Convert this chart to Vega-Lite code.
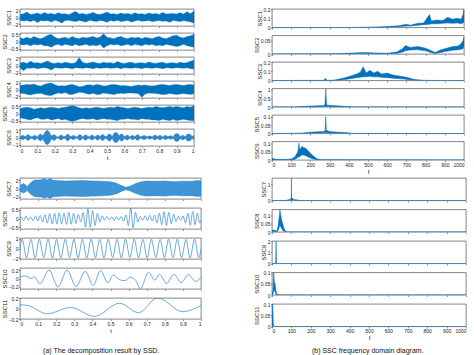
{
"$schema":"https://vega.github.io/schema/vega-lite/v6.json",
"padding":{"left":0,"top":0,"right":0,"bottom":0},
"config":{"font":"Liberation Sans","view":{"stroke":"#333","strokeWidth":0.6},
"axis":{"labelFontSize":5,"titleFontSize":6,"tickSize":1.5,"tickWidth":0.5,"tickColor":"#333","domain":false,"grid":false,"labelPadding":0.5,"titlePadding":1,"labelColor":"#222","titleColor":"#222","titleFontWeight":"normal"},
"title":{"fontSize":7,"fontWeight":"normal","color":"#111"}},
"datasets":{
"top":[
{"t":0,"h1":0.9,"l1":-0.8,"h2":0.25,"l2":-0.2,"h3":0.7,"l3":-0.6,"h4":1.2,"l4":-1.1,"h5":0.35,"l5":-0.3},
{"t":0.02,"h1":1.1,"l1":-1.0,"h2":0.2,"l2":-0.25,"h3":0.9,"l3":-1.5,"h4":1.3,"l4":-1.2,"h5":0.4,"l5":-0.35},
{"t":0.04,"h1":1.6,"l1":-0.9,"h2":0.3,"l2":-0.2,"h3":0.6,"l3":-0.7,"h4":1.5,"l4":-1.4,"h5":0.45,"l5":-0.4},
{"t":0.06,"h1":0.9,"l1":-1.2,"h2":0.2,"l2":-0.3,"h3":1.2,"l3":-0.8,"h4":1.4,"l4":-1.6,"h5":0.4,"l5":-0.45},
{"t":0.08,"h1":1.0,"l1":-0.8,"h2":0.35,"l2":-0.2,"h3":0.7,"l3":-0.6,"h4":1.6,"l4":-1.3,"h5":0.3,"l5":-0.35},
{"t":0.1,"h1":1.3,"l1":-1.5,"h2":0.25,"l2":-0.25,"h3":0.8,"l3":-0.9,"h4":1.2,"l4":-1.2,"h5":0.35,"l5":-0.3},
{"t":0.12,"h1":0.9,"l1":-0.9,"h2":0.2,"l2":-0.2,"h3":0.6,"l3":-0.7,"h4":1.0,"l4":-1.1,"h5":0.4,"l5":-0.4},
{"t":0.14,"h1":1.5,"l1":-1.0,"h2":0.3,"l2":-0.3,"h3":0.9,"l3":-0.6,"h4":1.5,"l4":-1.5,"h5":0.35,"l5":-0.4},
{"t":0.16,"h1":1.0,"l1":-0.9,"h2":0.45,"l2":-0.3,"h3":1.3,"l3":-0.8,"h4":1.8,"l4":-1.7,"h5":0.4,"l5":-0.35},
{"t":0.18,"h1":1.2,"l1":-1.3,"h2":0.5,"l2":-0.4,"h3":0.7,"l3":-1.3,"h4":1.9,"l4":-1.8,"h5":0.45,"l5":-0.45},
{"t":0.2,"h1":0.9,"l1":-0.8,"h2":0.3,"l2":-0.25,"h3":0.6,"l3":-0.6,"h4":1.4,"l4":-1.3,"h5":0.4,"l5":-0.4},
{"t":0.22,"h1":1.4,"l1":-1.1,"h2":0.2,"l2":-0.2,"h3":0.8,"l3":-0.7,"h4":1.0,"l4":-1.0,"h5":0.35,"l5":-0.35},
{"t":0.24,"h1":1.0,"l1":-1.6,"h2":0.25,"l2":-0.3,"h3":0.6,"l3":-0.8,"h4":1.1,"l4":-1.2,"h5":0.4,"l5":-0.45},
{"t":0.26,"h1":1.1,"l1":-0.9,"h2":0.3,"l2":-0.2,"h3":0.9,"l3":-0.6,"h4":1.0,"l4":-0.9,"h5":0.45,"l5":-0.4},
{"t":0.28,"h1":0.8,"l1":-0.8,"h2":0.2,"l2":-0.25,"h3":0.7,"l3":-0.7,"h4":1.3,"l4":-1.4,"h5":0.5,"l5":-0.5},
{"t":0.3,"h1":1.3,"l1":-1.0,"h2":0.35,"l2":-0.3,"h3":0.6,"l3":-0.9,"h4":1.5,"l4":-1.5,"h5":0.55,"l5":-0.55},
{"t":0.32,"h1":1.8,"l1":-1.2,"h2":0.25,"l2":-0.2,"h3":0.8,"l3":-0.6,"h4":1.2,"l4":-1.1,"h5":0.5,"l5":-0.5},
{"t":0.34,"h1":1.0,"l1":-0.9,"h2":0.2,"l2":-0.3,"h3":2.2,"l3":-0.7,"h4":0.8,"l4":-0.8,"h5":0.4,"l5":-0.4},
{"t":0.36,"h1":1.2,"l1":-1.1,"h2":0.3,"l2":-0.25,"h3":0.9,"l3":-0.8,"h4":0.9,"l4":-0.9,"h5":0.35,"l5":-0.35},
{"t":0.38,"h1":0.9,"l1":-1.3,"h2":0.25,"l2":-0.2,"h3":0.6,"l3":-0.6,"h4":1.3,"l4":-1.2,"h5":0.4,"l5":-0.4},
{"t":0.4,"h1":1.1,"l1":-0.8,"h2":0.3,"l2":-0.3,"h3":0.8,"l3":-0.7,"h4":1.4,"l4":-1.4,"h5":0.35,"l5":-0.4},
{"t":0.42,"h1":1.5,"l1":-1.0,"h2":0.35,"l2":-0.25,"h3":1.0,"l3":-0.9,"h4":1.2,"l4":-1.1,"h5":0.4,"l5":-0.35},
{"t":0.44,"h1":1.0,"l1":-1.2,"h2":0.25,"l2":-0.3,"h3":0.7,"l3":-0.6,"h4":1.5,"l4":-1.5,"h5":0.45,"l5":-0.45},
{"t":0.46,"h1":0.9,"l1":-0.9,"h2":0.3,"l2":-0.2,"h3":0.6,"l3":-0.8,"h4":1.3,"l4":-1.4,"h5":0.4,"l5":-0.4},
{"t":0.48,"h1":1.2,"l1":-1.0,"h2":0.55,"l2":-0.45,"h3":0.9,"l3":-0.7,"h4":1.0,"l4":-1.0,"h5":0.35,"l5":-0.35},
{"t":0.5,"h1":1.6,"l1":-1.4,"h2":0.3,"l2":-0.3,"h3":0.7,"l3":-0.6,"h4":1.1,"l4":-1.2,"h5":0.4,"l5":-0.4},
{"t":0.52,"h1":1.0,"l1":-0.9,"h2":0.25,"l2":-0.2,"h3":0.8,"l3":-0.8,"h4":1.4,"l4":-1.3,"h5":0.45,"l5":-0.4},
{"t":0.54,"h1":1.1,"l1":-1.1,"h2":0.2,"l2":-0.25,"h3":0.6,"l3":-0.7,"h4":1.5,"l4":-1.5,"h5":0.4,"l5":-0.45},
{"t":0.56,"h1":0.9,"l1":-0.8,"h2":0.3,"l2":-0.2,"h3":1.1,"l3":-0.6,"h4":1.3,"l4":-1.2,"h5":0.5,"l5":-0.5},
{"t":0.58,"h1":1.3,"l1":-1.2,"h2":0.35,"l2":-0.3,"h3":0.7,"l3":-0.9,"h4":1.1,"l4":-1.1,"h5":0.45,"l5":-0.4},
{"t":0.6,"h1":1.0,"l1":-1.0,"h2":0.25,"l2":-0.25,"h3":0.6,"l3":-0.6,"h4":1.2,"l4":-1.2,"h5":0.4,"l5":-0.4},
{"t":0.62,"h1":1.2,"l1":-0.9,"h2":0.2,"l2":-0.2,"h3":0.8,"l3":-0.7,"h4":1.0,"l4":-1.0,"h5":0.35,"l5":-0.35},
{"t":0.64,"h1":0.9,"l1":-1.3,"h2":0.3,"l2":-0.3,"h3":0.9,"l3":-0.8,"h4":0.9,"l4":-1.0,"h5":0.4,"l5":-0.4},
{"t":0.66,"h1":1.4,"l1":-1.0,"h2":0.25,"l2":-0.2,"h3":0.6,"l3":-0.6,"h4":1.1,"l4":-1.1,"h5":0.45,"l5":-0.4},
{"t":0.68,"h1":1.0,"l1":-0.8,"h2":0.3,"l2":-0.25,"h3":0.7,"l3":-0.7,"h4":1.3,"l4":-1.2,"h5":0.4,"l5":-0.45},
{"t":0.7,"h1":1.1,"l1":-1.1,"h2":0.2,"l2":-0.3,"h3":0.8,"l3":-0.9,"h4":1.2,"l4":-2.3,"h5":0.35,"l5":-0.35},
{"t":0.72,"h1":0.9,"l1":-1.0,"h2":0.3,"l2":-0.2,"h3":0.6,"l3":-0.6,"h4":1.3,"l4":-1.3,"h5":0.4,"l5":-0.4},
{"t":0.74,"h1":1.3,"l1":-0.9,"h2":0.25,"l2":-0.25,"h3":1.0,"l3":-0.7,"h4":1.1,"l4":-1.0,"h5":0.45,"l5":-0.4},
{"t":0.76,"h1":1.0,"l1":-1.2,"h2":0.2,"l2":-0.2,"h3":0.7,"l3":-0.8,"h4":1.0,"l4":-1.1,"h5":0.4,"l5":-0.45},
{"t":0.78,"h1":1.2,"l1":-1.0,"h2":0.3,"l2":-0.3,"h3":0.6,"l3":-0.6,"h4":1.2,"l4":-1.2,"h5":0.5,"l5":-0.45},
{"t":0.8,"h1":0.9,"l1":-0.9,"h2":0.35,"l2":-0.25,"h3":0.8,"l3":-0.7,"h4":1.4,"l4":-1.3,"h5":0.45,"l5":-0.5},
{"t":0.82,"h1":1.5,"l1":-1.1,"h2":0.25,"l2":-0.3,"h3":0.9,"l3":-0.9,"h4":1.5,"l4":-1.5,"h5":0.4,"l5":-0.4},
{"t":0.84,"h1":1.0,"l1":-1.0,"h2":0.2,"l2":-0.2,"h3":0.6,"l3":-0.6,"h4":1.3,"l4":-1.4,"h5":0.45,"l5":-0.45},
{"t":0.86,"h1":1.1,"l1":-1.4,"h2":0.3,"l2":-0.25,"h3":0.7,"l3":-0.7,"h4":1.2,"l4":-1.2,"h5":0.5,"l5":-0.5},
{"t":0.88,"h1":1.2,"l1":-0.9,"h2":0.4,"l2":-0.3,"h3":0.8,"l3":-0.8,"h4":1.4,"l4":-1.3,"h5":0.45,"l5":-0.4},
{"t":0.9,"h1":1.0,"l1":-1.0,"h2":0.45,"l2":-0.35,"h3":0.6,"l3":-0.6,"h4":1.5,"l4":-1.5,"h5":0.5,"l5":-0.5},
{"t":0.92,"h1":1.4,"l1":-1.2,"h2":0.3,"l2":-0.3,"h3":0.9,"l3":-0.7,"h4":1.3,"l4":-1.3,"h5":0.45,"l5":-0.45},
{"t":0.94,"h1":1.0,"l1":-0.9,"h2":0.25,"l2":-0.2,"h3":0.7,"l3":-0.8,"h4":1.2,"l4":-1.2,"h5":0.4,"l5":-0.4},
{"t":0.96,"h1":1.7,"l1":-1.1,"h2":0.35,"l2":-0.3,"h3":0.8,"l3":-0.6,"h4":1.4,"l4":-1.3,"h5":0.5,"l5":-0.45},
{"t":0.98,"h1":1.1,"l1":-1.3,"h2":0.4,"l2":-0.35,"h3":1.2,"l3":-0.9,"h4":1.5,"l4":-1.5,"h5":0.45,"l5":-0.5},
{"t":1,"h1":1.9,"l1":-1.6,"h2":0.5,"l2":-0.4,"h3":1.5,"l3":-1.0,"h4":1.3,"l4":-1.2,"h5":0.55,"l5":-0.5}
],
"s6":[
{"t":0,"h":0.1,"l":-0.1},{"t":0.01,"h":0.25,"l":-0.25},{"t":0.02,"h":0.3,"l":-0.3},{"t":0.03,"h":0.1,"l":-0.1},{"t":0.04,"h":0.35,"l":-0.35},{"t":0.05,"h":0.4,"l":-0.4},{"t":0.06,"h":0.15,"l":-0.15},{"t":0.07,"h":0.1,"l":-0.1},{"t":0.08,"h":0.3,"l":-0.3},{"t":0.09,"h":0.3,"l":-0.3},
{"t":0.1,"h":0.08,"l":-0.08},{"t":0.11,"h":0.4,"l":-0.4},{"t":0.12,"h":0.5,"l":-0.5},{"t":0.13,"h":0.2,"l":-0.2},{"t":0.14,"h":0.6,"l":-0.6},{"t":0.15,"h":0.95,"l":-0.95},{"t":0.16,"h":1.0,"l":-1.0},{"t":0.17,"h":0.7,"l":-0.7},{"t":0.18,"h":0.2,"l":-0.2},{"t":0.19,"h":0.35,"l":-0.35},
{"t":0.2,"h":0.4,"l":-0.4},{"t":0.21,"h":0.1,"l":-0.1},{"t":0.22,"h":0.08,"l":-0.08},{"t":0.23,"h":0.3,"l":-0.3},{"t":0.24,"h":0.35,"l":-0.35},{"t":0.25,"h":0.1,"l":-0.1},{"t":0.26,"h":0.15,"l":-0.15},{"t":0.27,"h":0.45,"l":-0.45},{"t":0.28,"h":0.4,"l":-0.4},{"t":0.29,"h":0.1,"l":-0.1},
{"t":0.3,"h":0.25,"l":-0.25},{"t":0.31,"h":0.3,"l":-0.3},{"t":0.32,"h":0.1,"l":-0.1},{"t":0.33,"h":0.1,"l":-0.1},{"t":0.34,"h":0.4,"l":-0.4},{"t":0.35,"h":0.35,"l":-0.35},{"t":0.36,"h":0.08,"l":-0.08},{"t":0.37,"h":0.3,"l":-0.3},{"t":0.38,"h":0.4,"l":-0.4},{"t":0.39,"h":0.15,"l":-0.15},
{"t":0.4,"h":0.1,"l":-0.1},{"t":0.41,"h":0.35,"l":-0.35},{"t":0.42,"h":0.3,"l":-0.3},{"t":0.43,"h":0.08,"l":-0.08},{"t":0.44,"h":0.3,"l":-0.3},{"t":0.45,"h":0.35,"l":-0.35},{"t":0.46,"h":0.1,"l":-0.1},{"t":0.47,"h":0.4,"l":-0.4},{"t":0.48,"h":0.4,"l":-0.4},{"t":0.49,"h":0.1,"l":-0.1},
{"t":0.5,"h":0.2,"l":-0.2},{"t":0.51,"h":0.5,"l":-0.5},{"t":0.52,"h":0.45,"l":-0.45},{"t":0.53,"h":0.1,"l":-0.1},{"t":0.54,"h":0.6,"l":-0.6},{"t":0.55,"h":0.7,"l":-0.7},{"t":0.56,"h":0.65,"l":-0.65},{"t":0.57,"h":0.2,"l":-0.2},{"t":0.58,"h":0.5,"l":-0.5},{"t":0.59,"h":0.45,"l":-0.45},
{"t":0.6,"h":0.1,"l":-0.1},{"t":0.61,"h":0.3,"l":-0.3},{"t":0.62,"h":0.35,"l":-0.35},{"t":0.63,"h":0.08,"l":-0.08},{"t":0.64,"h":0.25,"l":-0.25},{"t":0.65,"h":0.3,"l":-0.3},{"t":0.66,"h":0.1,"l":-0.1},{"t":0.67,"h":0.35,"l":-0.35},{"t":0.68,"h":0.4,"l":-0.4},{"t":0.69,"h":0.1,"l":-0.1},
{"t":0.7,"h":0.15,"l":-0.15},{"t":0.71,"h":0.3,"l":-0.3},{"t":0.72,"h":0.25,"l":-0.25},{"t":0.73,"h":0.08,"l":-0.08},{"t":0.74,"h":0.2,"l":-0.2},{"t":0.75,"h":0.2,"l":-0.2},{"t":0.76,"h":0.08,"l":-0.08},{"t":0.77,"h":0.3,"l":-0.3},{"t":0.78,"h":0.35,"l":-0.35},{"t":0.79,"h":0.1,"l":-0.1},
{"t":0.8,"h":0.3,"l":-0.3},{"t":0.81,"h":0.3,"l":-0.3},{"t":0.82,"h":0.08,"l":-0.08},{"t":0.83,"h":0.25,"l":-0.25},{"t":0.84,"h":0.3,"l":-0.3},{"t":0.85,"h":0.1,"l":-0.1},{"t":0.86,"h":0.2,"l":-0.2},{"t":0.87,"h":0.25,"l":-0.25},{"t":0.88,"h":0.08,"l":-0.08},{"t":0.89,"h":0.45,"l":-0.45},
{"t":0.9,"h":0.55,"l":-0.55},{"t":0.91,"h":0.5,"l":-0.5},{"t":0.92,"h":0.1,"l":-0.1},{"t":0.93,"h":0.3,"l":-0.3},{"t":0.94,"h":0.3,"l":-0.3},{"t":0.95,"h":0.1,"l":-0.1},{"t":0.96,"h":0.45,"l":-0.45},{"t":0.97,"h":0.5,"l":-0.5},{"t":0.98,"h":0.4,"l":-0.4},{"t":0.99,"h":0.15,"l":-0.15},{"t":1,"h":0.3,"l":-0.3}
],
"s7":[
{"t":0,"h":0.7,"l":-0.7},{"t":0.02,"h":1.2,"l":-1.1},{"t":0.04,"h":0.5,"l":-0.5},{"t":0.06,"h":1.4,"l":-1.4},{"t":0.08,"h":2.0,"l":-1.9},{"t":0.1,"h":2.0,"l":-2.0},{"t":0.12,"h":2.1,"l":-2.0},{"t":0.135,"h":2.4,"l":-2.3},{"t":0.15,"h":2.0,"l":-2.0},{"t":0.165,"h":2.4,"l":-2.4},{"t":0.18,"h":2.0,"l":-2.0},{"t":0.2,"h":1.9,"l":-1.9},{"t":0.25,"h":1.8,"l":-1.8},{"t":0.3,"h":1.85,"l":-1.85},{"t":0.35,"h":1.9,"l":-1.9},{"t":0.4,"h":1.8,"l":-1.8},{"t":0.45,"h":1.75,"l":-1.75},{"t":0.5,"h":1.6,"l":-1.6},{"t":0.53,"h":1.3,"l":-1.3},{"t":0.56,"h":0.7,"l":-0.7},{"t":0.585,"h":0.3,"l":-0.3},{"t":0.61,"h":0.6,"l":-0.6},{"t":0.64,"h":1.2,"l":-1.2},{"t":0.67,"h":1.6,"l":-1.6},{"t":0.7,"h":1.8,"l":-1.8},{"t":0.75,"h":1.7,"l":-1.7},{"t":0.8,"h":1.8,"l":-1.8},{"t":0.85,"h":1.6,"l":-1.6},{"t":0.9,"h":1.75,"l":-1.75},{"t":0.95,"h":1.7,"l":-1.7},{"t":0.98,"h":1.9,"l":-1.9},{"t":1,"h":1.8,"l":-1.8}
],
"s8":[
{"t":0,"v":0.02},{"t":0.007,"v":0.1},{"t":0.02,"v":-0.12},{"t":0.033,"v":0.15},{"t":0.046,"v":-0.1},{"t":0.059,"v":0.08},{"t":0.072,"v":-0.12},{"t":0.086,"v":0.15},{"t":0.099,"v":-0.14},{"t":0.112,"v":0.18},{"t":0.125,"v":-0.2},{"t":0.138,"v":0.22},{"t":0.151,"v":-0.25},{"t":0.164,"v":0.28},{"t":0.178,"v":-0.3},{"t":0.191,"v":0.3},{"t":0.204,"v":-0.32},{"t":0.217,"v":0.33},{"t":0.23,"v":-0.32},{"t":0.243,"v":0.3},{"t":0.257,"v":-0.33},{"t":0.27,"v":0.35},{"t":0.283,"v":-0.33},{"t":0.296,"v":0.3},{"t":0.309,"v":-0.28},{"t":0.322,"v":0.25},{"t":0.336,"v":-0.2},{"t":0.349,"v":0.35},{"t":0.362,"v":-0.5},{"t":0.375,"v":0.55},{"t":0.388,"v":-0.5},{"t":0.401,"v":0.45},{"t":0.414,"v":-0.4},{"t":0.428,"v":0.3},{"t":0.441,"v":-0.2},{"t":0.454,"v":0.15},{"t":0.467,"v":-0.1},{"t":0.48,"v":0.12},{"t":0.493,"v":-0.08},{"t":0.507,"v":0.1},{"t":0.52,"v":-0.12},{"t":0.533,"v":0.1},{"t":0.546,"v":-0.08},{"t":0.559,"v":0.12},{"t":0.572,"v":-0.15},{"t":0.586,"v":0.2},{"t":0.599,"v":-0.4},{"t":0.612,"v":0.6},{"t":0.625,"v":-0.55},{"t":0.638,"v":0.35},{"t":0.651,"v":-0.2},{"t":0.664,"v":0.12},{"t":0.678,"v":-0.1},{"t":0.691,"v":0.15},{"t":0.704,"v":-0.12},{"t":0.717,"v":0.18},{"t":0.73,"v":-0.15},{"t":0.743,"v":0.2},{"t":0.757,"v":-0.25},{"t":0.77,"v":0.3},{"t":0.783,"v":-0.35},{"t":0.796,"v":0.38},{"t":0.809,"v":-0.4},{"t":0.822,"v":0.35},{"t":0.836,"v":-0.3},{"t":0.849,"v":0.25},{"t":0.862,"v":-0.18},{"t":0.875,"v":0.12},{"t":0.888,"v":-0.1},{"t":0.901,"v":0.15},{"t":0.914,"v":-0.25},{"t":0.928,"v":0.3},{"t":0.941,"v":-0.38},{"t":0.954,"v":0.4},{"t":0.967,"v":-0.35},{"t":0.98,"v":0.3},{"t":0.993,"v":-0.25},{"t":1,"v":-0.1}
],
"s9":[
{"t":0,"v":0},{"t":0.012,"v":1.95},{"t":0.036,"v":-1.95},{"t":0.06,"v":1.9},{"t":0.083,"v":-1.95},{"t":0.107,"v":1.95},{"t":0.131,"v":-1.9},{"t":0.155,"v":1.95},{"t":0.179,"v":-1.95},{"t":0.202,"v":1.9},{"t":0.226,"v":-1.95},{"t":0.25,"v":1.95},{"t":0.274,"v":-1.9},{"t":0.298,"v":1.95},{"t":0.321,"v":-1.95},{"t":0.345,"v":1.9},{"t":0.369,"v":-1.95},{"t":0.393,"v":1.95},{"t":0.417,"v":-1.9},{"t":0.44,"v":1.9},{"t":0.464,"v":-1.95},{"t":0.488,"v":1.95},{"t":0.512,"v":-1.9},{"t":0.536,"v":1.9},{"t":0.56,"v":-1.95},{"t":0.583,"v":1.95},{"t":0.607,"v":-1.9},{"t":0.631,"v":1.95},{"t":0.655,"v":-1.95},{"t":0.679,"v":1.9},{"t":0.702,"v":-1.95},{"t":0.726,"v":1.95},{"t":0.75,"v":-1.9},{"t":0.774,"v":1.9},{"t":0.798,"v":-1.95},{"t":0.821,"v":1.95},{"t":0.845,"v":-1.9},{"t":0.869,"v":1.95},{"t":0.893,"v":-1.95},{"t":0.917,"v":1.9},{"t":0.94,"v":-1.95},{"t":0.964,"v":1.95},{"t":0.988,"v":-1.9},{"t":1,"v":0}
],
"s10":[
{"t":0,"v":0.04},{"t":0.03,"v":0.06},{"t":0.06,"v":0.0},{"t":0.08,"v":0.04},{"t":0.11,"v":-0.13},{"t":0.16,"v":0.2},{"t":0.21,"v":-0.2},{"t":0.26,"v":0.2},{"t":0.31,"v":-0.19},{"t":0.36,"v":0.17},{"t":0.405,"v":-0.16},{"t":0.445,"v":0.19},{"t":0.485,"v":-0.1},{"t":0.515,"v":0.08},{"t":0.55,"v":-0.03},{"t":0.58,"v":-0.05},{"t":0.61,"v":0.03},{"t":0.64,"v":-0.05},{"t":0.665,"v":-0.25},{"t":0.71,"v":0.15},{"t":0.745,"v":-0.04},{"t":0.77,"v":0.1},{"t":0.81,"v":-0.12},{"t":0.85,"v":0.1},{"t":0.89,"v":-0.1},{"t":0.93,"v":0.09},{"t":0.97,"v":-0.07},{"t":1,"v":0.03}
],
"s11":[
{"t":0,"v":0.07},{"t":0.04,"v":0.06},{"t":0.15,"v":-0.1},{"t":0.28,"v":0.02},{"t":0.41,"v":-0.15},{"t":0.55,"v":0.1},{"t":0.655,"v":-0.08},{"t":0.76,"v":0.2},{"t":0.9,"v":-0.06},{"t":1,"v":0.06}
],
"r1":[{"f":0,"h":0,"l":0},{"f":400,"h":0.001,"l":0},{"f":520,"h":0.004,"l":0.001},{"f":600,"h":0.01,"l":0.003},{"f":660,"h":0.02,"l":0.008},{"f":700,"h":0.035,"l":0.015},{"f":720,"h":0.025,"l":0.015},{"f":760,"h":0.045,"l":0.025},{"f":790,"h":0.05,"l":0.03},{"f":820,"h":0.14,"l":0.035},{"f":830,"h":0.07,"l":0.04},{"f":860,"h":0.08,"l":0.04},{"f":890,"h":0.075,"l":0.045},{"f":915,"h":0.11,"l":0.05},{"f":940,"h":0.09,"l":0.045},{"f":965,"h":0.1,"l":0.05},{"f":985,"h":0.09,"l":0.04},{"f":995,"h":0.14,"l":0.05},{"f":1000,"h":0.2,"l":0.06}],
"r2":[{"f":0,"h":0,"l":0},{"f":350,"h":0.001,"l":0},{"f":420,"h":0.004,"l":0.001},{"f":480,"h":0.006,"l":0.002},{"f":540,"h":0.004,"l":0.001},{"f":600,"h":0.003,"l":0.001},{"f":650,"h":0.008,"l":0.002},{"f":680,"h":0.02,"l":0.008},{"f":695,"h":0.032,"l":0.012},{"f":720,"h":0.025,"l":0.015},{"f":760,"h":0.028,"l":0.016},{"f":800,"h":0.022,"l":0.012},{"f":830,"h":0.012,"l":0.005},{"f":850,"h":0.006,"l":0.002},{"f":880,"h":0.016,"l":0.006},{"f":910,"h":0.022,"l":0.01},{"f":940,"h":0.028,"l":0.014},{"f":970,"h":0.03,"l":0.016},{"f":985,"h":0.04,"l":0.018},{"f":995,"h":0.05,"l":0.02},{"f":1000,"h":0.065,"l":0.03}],
"r3":[{"f":0,"h":0,"l":0},{"f":270,"h":0.002,"l":0},{"f":278,"h":0.025,"l":0},{"f":286,"h":0.002,"l":0},{"f":320,"h":0.004,"l":0},{"f":350,"h":0.015,"l":0.003},{"f":380,"h":0.03,"l":0.01},{"f":410,"h":0.05,"l":0.02},{"f":440,"h":0.07,"l":0.03},{"f":460,"h":0.09,"l":0.035},{"f":475,"h":0.15,"l":0.04},{"f":490,"h":0.08,"l":0.04},{"f":510,"h":0.11,"l":0.045},{"f":530,"h":0.08,"l":0.04},{"f":550,"h":0.1,"l":0.04},{"f":570,"h":0.07,"l":0.035},{"f":600,"h":0.08,"l":0.03},{"f":630,"h":0.06,"l":0.025},{"f":660,"h":0.05,"l":0.02},{"f":690,"h":0.04,"l":0.015},{"f":710,"h":0.03,"l":0.008},{"f":740,"h":0.012,"l":0.003},{"f":780,"h":0.004,"l":0},{"f":820,"h":0.001,"l":0},{"f":1000,"h":0,"l":0}],
"r4":[{"f":0,"h":0,"l":0},{"f":120,"h":0.005,"l":0},{"f":160,"h":0.03,"l":0.005},{"f":200,"h":0.05,"l":0.01},{"f":240,"h":0.07,"l":0.02},{"f":270,"h":0.09,"l":0.03},{"f":276,"h":0.15,"l":0.03},{"f":280,"h":1.05,"l":0.03},{"f":284,"h":0.15,"l":0.03},{"f":290,"h":0.1,"l":0.03},{"f":320,"h":0.08,"l":0.02},{"f":360,"h":0.05,"l":0.01},{"f":400,"h":0.02,"l":0.003},{"f":440,"h":0.003,"l":0},{"f":1000,"h":0,"l":0}],
"r5":[{"f":0,"h":0,"l":0},{"f":150,"h":0.002,"l":0},{"f":200,"h":0.008,"l":0.002},{"f":240,"h":0.01,"l":0.003},{"f":270,"h":0.012,"l":0.004},{"f":277,"h":0.02,"l":0.004},{"f":280,"h":0.1,"l":0.004},{"f":283,"h":0.02,"l":0.004},{"f":300,"h":0.012,"l":0.003},{"f":340,"h":0.008,"l":0.002},{"f":380,"h":0.006,"l":0.001},{"f":420,"h":0.001,"l":0},{"f":1000,"h":0,"l":0}],
"r6":[{"f":0,"h":0.01,"l":0},{"f":10,"h":0.008,"l":0.002},{"f":20,"h":0.004,"l":0},{"f":60,"h":0.003,"l":0},{"f":100,"h":0.006,"l":0.001},{"f":120,"h":0.02,"l":0.004},{"f":135,"h":0.05,"l":0.015},{"f":140,"h":0.1,"l":0.02},{"f":145,"h":0.06,"l":0.02},{"f":155,"h":0.08,"l":0.03},{"f":165,"h":0.075,"l":0.03},{"f":175,"h":0.07,"l":0.025},{"f":185,"h":0.06,"l":0.02},{"f":200,"h":0.04,"l":0.012},{"f":215,"h":0.025,"l":0.006},{"f":230,"h":0.01,"l":0.002},{"f":250,"h":0.002,"l":0},{"f":1000,"h":0,"l":0}],
"r7":[{"f":0,"h":0,"l":0},{"f":70,"h":0.005,"l":0},{"f":85,"h":0.04,"l":0.005},{"f":95,"h":0.06,"l":0.01},{"f":99,"h":0.2,"l":0.01},{"f":100,"h":1.45,"l":0.01},{"f":101,"h":0.2,"l":0.01},{"f":110,"h":0.06,"l":0.01},{"f":125,"h":0.04,"l":0.005},{"f":140,"h":0.01,"l":0},{"f":160,"h":0,"l":0},{"f":1000,"h":0,"l":0}],
"r8":[{"f":0,"h":0.01,"l":0},{"f":5,"h":0.012,"l":0.004},{"f":15,"h":0.01,"l":0.003},{"f":25,"h":0.005,"l":0},{"f":32,"h":0.04,"l":0.01},{"f":38,"h":0.1,"l":0.03},{"f":41,"h":0.13,"l":0.04},{"f":45,"h":0.1,"l":0.03},{"f":50,"h":0.07,"l":0.02},{"f":55,"h":0.05,"l":0.01},{"f":62,"h":0.02,"l":0.003},{"f":70,"h":0.003,"l":0},{"f":80,"h":0,"l":0},{"f":1000,"h":0,"l":0}],
"r9":[{"f":0,"h":0,"l":0},{"f":15,"h":0.01,"l":0},{"f":19,"h":0.1,"l":0},{"f":21,"h":2.0,"l":0},{"f":23,"h":0.1,"l":0},{"f":28,"h":0.01,"l":0},{"f":40,"h":0,"l":0},{"f":1000,"h":0,"l":0}],
"r10":[{"f":0,"h":0.01,"l":0},{"f":5,"h":0.02,"l":0.005},{"f":9,"h":0.1,"l":0.02},{"f":12,"h":0.06,"l":0.02},{"f":16,"h":0.05,"l":0.015},{"f":20,"h":0.02,"l":0.005},{"f":25,"h":0.005,"l":0},{"f":35,"h":0,"l":0},{"f":1000,"h":0,"l":0}],
"r11":[{"f":0,"h":0.02,"l":0},{"f":3,"h":0.1,"l":0},{"f":5,"h":0.08,"l":0.01},{"f":7,"h":0.01,"l":0},{"f":12,"h":0,"l":0},{"f":1000,"h":0,"l":0}]
},
"hconcat":[
{"vconcat":[
{"vconcat":[
{"width":174,"height":17,"data":{"name":"top"},"mark":{"type":"area","color":"#0072BD","stroke":"#0072BD","strokeWidth":0.4,"clip":true},"encoding":{"x":{"field":"t","type":"quantitative","scale":{"domain":[0,1],"nice":false},"axis":{"values":[0,0.1,0.2,0.3,0.4,0.5,0.6,0.7,0.8,0.9,1],"labels":false,"title":null}},"y":{"field":"h1","type":"quantitative","scale":{"domain":[-2.5,2.5],"nice":false},"axis":{"title":"SSC1","values":[-2,0,2],"format":"~g"}},"y2":{"field":"l1"}}},
{"width":174,"height":17,"data":{"name":"top"},"mark":{"type":"area","color":"#0072BD","stroke":"#0072BD","strokeWidth":0.4,"clip":true},"encoding":{"x":{"field":"t","type":"quantitative","scale":{"domain":[0,1],"nice":false},"axis":{"values":[0,0.1,0.2,0.3,0.4,0.5,0.6,0.7,0.8,0.9,1],"labels":false,"title":null}},"y":{"field":"h2","type":"quantitative","scale":{"domain":[-0.6,0.6],"nice":false},"axis":{"title":"SSC2","values":[-0.5,0,0.5],"format":"~g"}},"y2":{"field":"l2"}}},
{"width":174,"height":17,"data":{"name":"top"},"mark":{"type":"area","color":"#0072BD","stroke":"#0072BD","strokeWidth":0.4,"clip":true},"encoding":{"x":{"field":"t","type":"quantitative","scale":{"domain":[0,1],"nice":false},"axis":{"values":[0,0.1,0.2,0.3,0.4,0.5,0.6,0.7,0.8,0.9,1],"labels":false,"title":null}},"y":{"field":"h3","type":"quantitative","scale":{"domain":[-2.4,2.4],"nice":false},"axis":{"title":"SSC3","values":[-2,0,2],"format":"~g"}},"y2":{"field":"l3"}}},
{"width":174,"height":17,"data":{"name":"top"},"mark":{"type":"area","color":"#0072BD","stroke":"#0072BD","strokeWidth":0.4,"clip":true},"encoding":{"x":{"field":"t","type":"quantitative","scale":{"domain":[0,1],"nice":false},"axis":{"values":[0,0.1,0.2,0.3,0.4,0.5,0.6,0.7,0.8,0.9,1],"labels":false,"title":null}},"y":{"field":"h4","type":"quantitative","scale":{"domain":[-2.5,2.5],"nice":false},"axis":{"title":"SSC4","values":[-2,0,2],"format":"~g"}},"y2":{"field":"l4"}}},
{"width":174,"height":17,"data":{"name":"top"},"mark":{"type":"area","color":"#0072BD","stroke":"#0072BD","strokeWidth":0.4,"clip":true},"encoding":{"x":{"field":"t","type":"quantitative","scale":{"domain":[0,1],"nice":false},"axis":{"values":[0,0.1,0.2,0.3,0.4,0.5,0.6,0.7,0.8,0.9,1],"labels":false,"title":null}},"y":{"field":"h5","type":"quantitative","scale":{"domain":[-0.6,0.6],"nice":false},"axis":{"title":"SSC5","values":[-0.5,0,0.5],"format":"~g"}},"y2":{"field":"l5"}}},
{"width":174,"height":17,"data":{"name":"s6"},"mark":{"type":"area","color":"#2f86cc","stroke":"#0072BD","strokeWidth":0.4,"clip":true},"encoding":{"x":{"field":"t","type":"quantitative","scale":{"domain":[0,1],"nice":false},"axis":{"values":[0,0.1,0.2,0.3,0.4,0.5,0.6,0.7,0.8,0.9,1],"format":"~g","title":"t"}},"y":{"field":"h","type":"quantitative","scale":{"domain":[-1.2,1.2],"nice":false},"axis":{"title":"SSC6","values":[-1,0,1],"format":"~g"}},"y2":{"field":"l"}}}
],"spacing":7,"bounds":"flush","title":{"text":" ","fontSize":1,"offset":7}},
{"vconcat":[
{"width":181,"height":21,"data":{"name":"s7"},"mark":{"type":"area","color":"#3f95d6","stroke":"#0072BD","strokeWidth":0.4,"clip":true},"encoding":{"x":{"field":"t","type":"quantitative","scale":{"domain":[0,1],"nice":false},"axis":{"values":[0,0.1,0.2,0.3,0.4,0.5,0.6,0.7,0.8,0.9,1],"labels":false,"title":null}},"y":{"field":"h","type":"quantitative","scale":{"domain":[-2.5,2.5],"nice":false},"axis":{"title":"SSC7","values":[-2,0,2],"format":"~g"}},"y2":{"field":"l"}}},
{"width":181,"height":21,"data":{"name":"s8"},"mark":{"type":"line","color":"#2a88d0","strokeWidth":0.7,"interpolate":"monotone","clip":true},"encoding":{"x":{"field":"t","type":"quantitative","scale":{"domain":[0,1],"nice":false},"axis":{"values":[0,0.1,0.2,0.3,0.4,0.5,0.6,0.7,0.8,0.9,1],"labels":false,"title":null}},"y":{"field":"v","type":"quantitative","scale":{"domain":[-0.6,0.6],"nice":false},"axis":{"title":"SSC8","values":[-0.5,0,0.5],"format":"~g"}}}},
{"width":181,"height":21,"data":{"name":"s9"},"mark":{"type":"line","color":"#2a88d0","strokeWidth":0.7,"interpolate":"monotone","clip":true},"encoding":{"x":{"field":"t","type":"quantitative","scale":{"domain":[0,1],"nice":false},"axis":{"values":[0,0.1,0.2,0.3,0.4,0.5,0.6,0.7,0.8,0.9,1],"labels":false,"title":null}},"y":{"field":"v","type":"quantitative","scale":{"domain":[-2.2,2.2],"nice":false},"axis":{"title":"SSC9","values":[-2,0,2],"format":"~g"}}}},
{"width":181,"height":21,"data":{"name":"s10"},"mark":{"type":"line","color":"#2a88d0","strokeWidth":0.7,"interpolate":"monotone","clip":true},"encoding":{"x":{"field":"t","type":"quantitative","scale":{"domain":[0,1],"nice":false},"axis":{"values":[0,0.1,0.2,0.3,0.4,0.5,0.6,0.7,0.8,0.9,1],"labels":false,"title":null}},"y":{"field":"v","type":"quantitative","scale":{"domain":[-0.25,0.25],"nice":false},"axis":{"title":"SSC10","values":[-0.2,0,0.2],"format":"~g"}}}},
{"width":181,"height":21,"data":{"name":"s11"},"mark":{"type":"line","color":"#2a88d0","strokeWidth":0.7,"interpolate":"monotone","clip":true},"encoding":{"x":{"field":"t","type":"quantitative","scale":{"domain":[0,1],"nice":false},"axis":{"values":[0,0.1,0.2,0.3,0.4,0.5,0.6,0.7,0.8,0.9,1],"format":"~g","title":"t"}},"y":{"field":"v","type":"quantitative","scale":{"domain":[-0.2,0.2],"nice":false},"axis":{"title":"SSC11","values":[-0.2,0,0.2],"format":"~g"}}}}
],"spacing":9,"bounds":"flush"}
],"spacing":16,"title":{"text":"(a) The decomposition result by SSD.","orient":"bottom","anchor":"middle","offset":14}},
{"vconcat":[
{"vconcat":[
{"width":192,"height":18.5,"data":{"name":"r1"},"mark":{"type":"area","color":"#0072BD","stroke":"#0072BD","strokeWidth":0.5,"clip":true},"encoding":{"x":{"field":"f","type":"quantitative","scale":{"domain":[0,1000],"nice":false},"axis":{"values":[0,100,200,300,400,500,600,700,800,900,1000],"labels":false,"title":null}},"y":{"field":"h","type":"quantitative","scale":{"domain":[0,0.2],"nice":false},"axis":{"title":"SSC1","values":[0,0.1,0.2],"format":"~g"}},"y2":{"field":"l"}}},
{"width":192,"height":18.5,"data":{"name":"r2"},"mark":{"type":"area","color":"#0072BD","stroke":"#0072BD","strokeWidth":0.5,"clip":true},"encoding":{"x":{"field":"f","type":"quantitative","scale":{"domain":[0,1000],"nice":false},"axis":{"values":[0,100,200,300,400,500,600,700,800,900,1000],"labels":false,"title":null}},"y":{"field":"h","type":"quantitative","scale":{"domain":[0,0.07],"nice":false},"axis":{"title":"SSC2","values":[0,0.05],"format":"~g"}},"y2":{"field":"l"}}},
{"width":192,"height":18.5,"data":{"name":"r3"},"mark":{"type":"area","color":"#0072BD","stroke":"#0072BD","strokeWidth":0.5,"clip":true},"encoding":{"x":{"field":"f","type":"quantitative","scale":{"domain":[0,1000],"nice":false},"axis":{"values":[0,100,200,300,400,500,600,700,800,900,1000],"labels":false,"title":null}},"y":{"field":"h","type":"quantitative","scale":{"domain":[0,0.2],"nice":false},"axis":{"title":"SSC3","values":[0,0.1,0.2],"format":"~g"}},"y2":{"field":"l"}}},
{"width":192,"height":18.5,"data":{"name":"r4"},"mark":{"type":"area","color":"#0072BD","stroke":"#0072BD","strokeWidth":0.5,"clip":true},"encoding":{"x":{"field":"f","type":"quantitative","scale":{"domain":[0,1000],"nice":false},"axis":{"values":[0,100,200,300,400,500,600,700,800,900,1000],"labels":false,"title":null}},"y":{"field":"h","type":"quantitative","scale":{"domain":[0,1.05],"nice":false},"axis":{"title":"SSC4","values":[0,0.5,1],"format":"~g"}},"y2":{"field":"l"}}},
{"width":192,"height":18.5,"data":{"name":"r5"},"mark":{"type":"area","color":"#0072BD","stroke":"#0072BD","strokeWidth":0.5,"clip":true},"encoding":{"x":{"field":"f","type":"quantitative","scale":{"domain":[0,1000],"nice":false},"axis":{"values":[0,100,200,300,400,500,600,700,800,900,1000],"labels":false,"title":null}},"y":{"field":"h","type":"quantitative","scale":{"domain":[0,0.11],"nice":false},"axis":{"title":"SSC5","values":[0,0.05,0.1],"format":"~g"}},"y2":{"field":"l"}}},
{"width":192,"height":18.5,"data":{"name":"r6"},"mark":{"type":"area","color":"#0072BD","stroke":"#0072BD","strokeWidth":0.5,"clip":true},"encoding":{"x":{"field":"f","type":"quantitative","scale":{"domain":[0,1000],"nice":false},"axis":{"values":[0,100,200,300,400,500,600,700,800,900,1000],"format":"d","title":"f"}},"y":{"field":"h","type":"quantitative","scale":{"domain":[0,0.11],"nice":false},"axis":{"title":"SSC6","values":[0,0.05,0.1],"format":"~g"}},"y2":{"field":"l"}}}
],"spacing":7.5,"bounds":"flush"},
{"vconcat":[
{"width":194,"height":22.5,"data":{"name":"r7"},"mark":{"type":"area","color":"#0072BD","stroke":"#0072BD","strokeWidth":0.5,"clip":true},"encoding":{"x":{"field":"f","type":"quantitative","scale":{"domain":[0,1000],"nice":false},"axis":{"values":[0,100,200,300,400,500,600,700,800,900,1000],"labels":false,"title":null}},"y":{"field":"h","type":"quantitative","scale":{"domain":[0,1.4],"nice":false},"axis":{"title":"SSC7","values":[0,1],"format":"~g"}},"y2":{"field":"l"}}},
{"width":194,"height":22.5,"data":{"name":"r8"},"mark":{"type":"area","color":"#0072BD","stroke":"#0072BD","strokeWidth":0.5,"clip":true},"encoding":{"x":{"field":"f","type":"quantitative","scale":{"domain":[0,1000],"nice":false},"axis":{"values":[0,100,200,300,400,500,600,700,800,900,1000],"labels":false,"title":null}},"y":{"field":"h","type":"quantitative","scale":{"domain":[0,0.133],"nice":false},"axis":{"title":"SSC8","values":[0,0.05,0.1],"format":"~g"}},"y2":{"field":"l"}}},
{"width":194,"height":22.5,"data":{"name":"r9"},"mark":{"type":"area","color":"#0072BD","stroke":"#0072BD","strokeWidth":0.5,"clip":true},"encoding":{"x":{"field":"f","type":"quantitative","scale":{"domain":[0,1000],"nice":false},"axis":{"values":[0,100,200,300,400,500,600,700,800,900,1000],"labels":false,"title":null}},"y":{"field":"h","type":"quantitative","scale":{"domain":[0,2],"nice":false},"axis":{"title":"SSC9","values":[0,1,2],"format":"~g"}},"y2":{"field":"l"}}},
{"width":194,"height":22.5,"data":{"name":"r10"},"mark":{"type":"area","color":"#0072BD","stroke":"#0072BD","strokeWidth":0.5,"clip":true},"encoding":{"x":{"field":"f","type":"quantitative","scale":{"domain":[0,1000],"nice":false},"axis":{"values":[0,100,200,300,400,500,600,700,800,900,1000],"labels":false,"title":null}},"y":{"field":"h","type":"quantitative","scale":{"domain":[0,0.1],"nice":false},"axis":{"title":"SSC10","values":[0,0.05,0.1],"format":"~g"}},"y2":{"field":"l"}}},
{"width":194,"height":22.5,"data":{"name":"r11"},"mark":{"type":"area","color":"#0072BD","stroke":"#0072BD","strokeWidth":0.5,"clip":true},"encoding":{"x":{"field":"f","type":"quantitative","scale":{"domain":[0,1000],"nice":false},"axis":{"values":[0,100,200,300,400,500,600,700,800,900,1000],"format":"d","title":"f"}},"y":{"field":"h","type":"quantitative","scale":{"domain":[0,0.1],"nice":false},"axis":{"title":"SSC11","values":[0,0.05,0.1],"format":"~g"}},"y2":{"field":"l"}}}
],"spacing":8.5,"bounds":"flush"}
],"spacing":2,"title":{"text":"(b) SSC frequency domain diagram.","orient":"bottom","anchor":"middle","offset":6,"dx":8}}
],"spacing":50,"align":"none"
}
